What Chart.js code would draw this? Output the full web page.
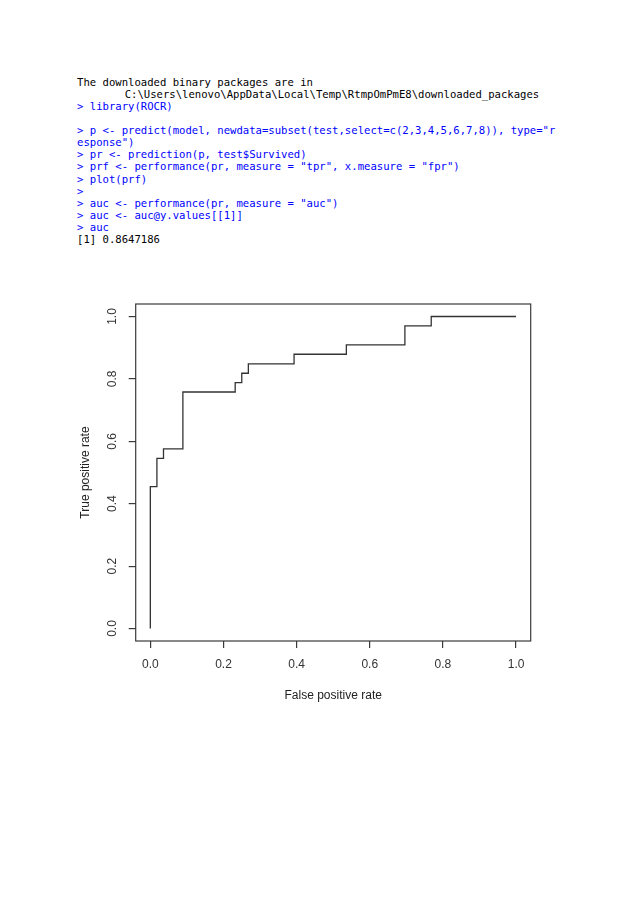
<!DOCTYPE html>
<html>
<head>
<meta charset="utf-8">
<script src="https://cdn.jsdelivr.net/npm/chart.js@4.4.0/dist/chart.umd.min.js"></script>
<style>
  html, body { margin: 0; padding: 0; background: #fff; }
  body { width: 638px; height: 902px; position: relative; overflow: hidden; }
  #console {
    position: absolute; left: 77px; top: 75.6px; margin: 0;
    font-family: "DejaVu Sans Mono", monospace; font-size: 10.6px; line-height: 12.13px;
    white-space: pre; color: #000;
  }
  .cmd { color: #0000ff; }
  .ind { margin-left: 3px; }
  #chart { position: absolute; left: 0; top: 280px; }
</style>
</head>
<body>
<pre id="console"><span>The downloaded binary packages are in</span>
<span class="ind">       C:\Users\lenovo\AppData\Local\Temp\RtmpOmPmE8\downloaded_packages</span>
<span class="cmd">&gt; library(ROCR)</span>

<span class="cmd">&gt; p &lt;- predict(model, newdata=subset(test,select=c(2,3,4,5,6,7,8)), type="r</span>
<span class="cmd">esponse")</span>
<span class="cmd">&gt; pr &lt;- prediction(p, test$Survived)</span>
<span class="cmd">&gt; prf &lt;- performance(pr, measure = "tpr", x.measure = "fpr")</span>
<span class="cmd">&gt; plot(prf)</span>
<span class="cmd">&gt;</span>
<span class="cmd">&gt; auc &lt;- performance(pr, measure = "auc")</span>
<span class="cmd">&gt; auc &lt;- auc@y.values[[1]]</span>
<span class="cmd">&gt; auc</span>
<span>[1] 0.8647186</span></pre>
<canvas id="chart" width="638" height="440" style="width:638px;height:440px"></canvas>
<script>
// ROC curve points (false positive rate, true positive rate)
const fpr = [0, 0, 0.018, 0.036, 0.089, 0.232, 0.250, 0.268, 0.393, 0.536, 0.696, 0.768, 1.0];
const tpr = [0, 0.455, 0.545, 0.576, 0.758, 0.788, 0.818, 0.848, 0.879, 0.909, 0.970, 1.0, 1.0];
const tickValues = [0, 0.2, 0.4, 0.6, 0.8, 1.0];
const tickLabels = ['0.0', '0.2', '0.4', '0.6', '0.8', '1.0'];
const xTitle = 'False positive rate';
const yTitle = 'True positive rate';

const points = fpr.map((x, i) => ({ x: x, y: tpr[i] }));
const axisColor = '#3a3a3a';
const labelFont = { family: '"Liberation Sans", Arial, sans-serif', size: 12 };

const boxPlugin = {
  id: 'box',
  afterDraw(chart) {
    const a = chart.chartArea, ctx = chart.ctx;
    ctx.save();
    ctx.strokeStyle = axisColor;
    ctx.lineWidth = 1.2;
    ctx.strokeRect(a.left, a.top, a.right - a.left, a.bottom - a.top);
    ctx.restore();
  }
};

function setTicks(scale) {
  scale.ticks = tickValues.map(v => ({ value: v }));
}
function fmt(value) {
  const i = tickValues.indexOf(value);
  return i >= 0 ? tickLabels[i] : '';
}

new Chart(document.getElementById('chart'), {
  type: 'line',
  data: {
    datasets: [{
      data: points,
      borderColor: '#333',
      borderWidth: 1.3,
      pointRadius: 0,
      fill: false,
      tension: 0,
      stepped: 'before'
    }]
  },
  options: {
    responsive: false,
    animation: false,
    layout: { padding: { left: 70, right: 107.3, top: 24, bottom: 17 } },
    plugins: { legend: { display: false }, tooltip: { enabled: false } },
    scales: {
      x: {
        type: 'linear', min: -0.04, max: 1.04,
        afterBuildTicks: setTicks,
        afterFit: s => { s.height = 62; },
        grid: { drawOnChartArea: false, drawTicks: true, tickLength: 7, color: axisColor, lineWidth: 1.2 },
        border: { display: false },
        ticks: { autoSkip: false, maxRotation: 0, minRotation: 0, padding: 9, color: '#333', font: labelFont, callback: fmt },
        title: { display: true, text: xTitle, color: '#222', font: labelFont, padding: { top: 0, bottom: 0 } }
      },
      y: {
        type: 'linear', min: -0.04, max: 1.04,
        afterBuildTicks: setTicks,
        afterFit: s => { s.width = 65.7; },
        grid: { drawOnChartArea: false, drawTicks: true, tickLength: 7, color: axisColor, lineWidth: 1.2 },
        border: { display: false },
        ticks: { autoSkip: false, minRotation: 90, maxRotation: 90, crossAlign: 'center', padding: 7.4, color: '#333', font: labelFont, callback: fmt },
        title: { display: true, text: yTitle, color: '#222', font: labelFont, padding: { top: 8.5, bottom: 0 } }
      }
    }
  },
  plugins: [boxPlugin]
});
</script>
</body>
</html>
